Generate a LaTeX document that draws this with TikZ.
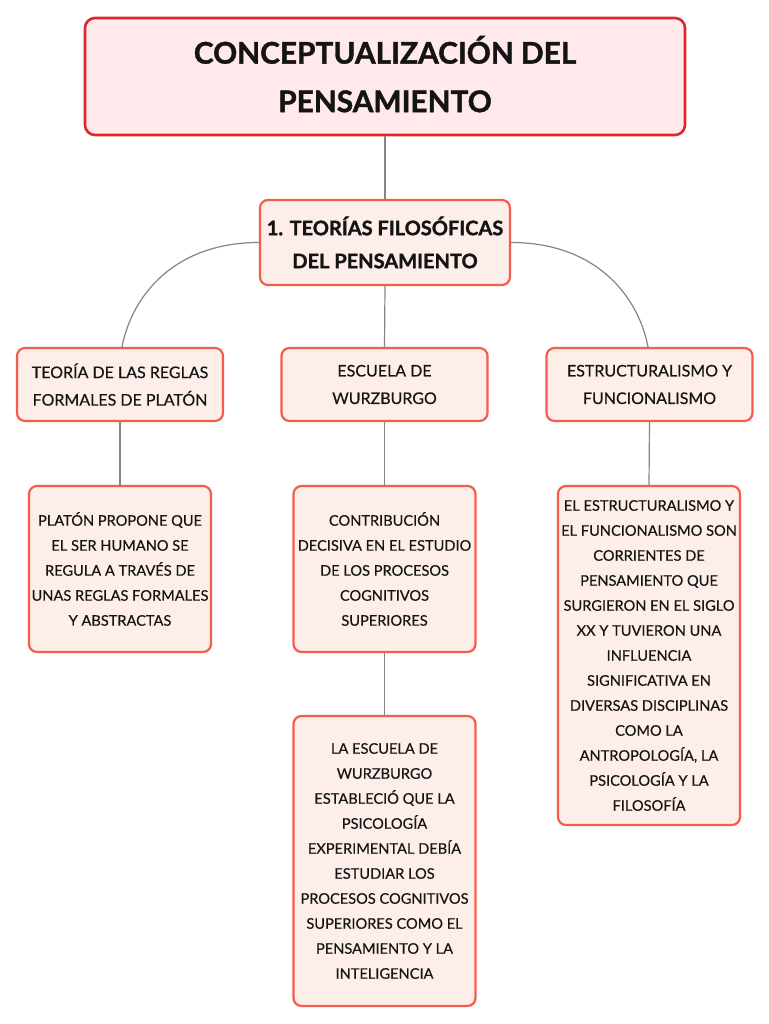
\documentclass[tikz,border=0pt]{standalone}
\usepackage{fontspec}
\setmainfont{Lato}[UprightFeatures={FakeBold=0.4},BoldFeatures={FakeBold=1.4}]
\definecolor{titleborder}{HTML}{E3262C}
\definecolor{titlefill}{HTML}{FFE9EA}
\definecolor{boxborder}{HTML}{F45D4C}
\definecolor{boxfill}{HTML}{FDEEEA}
\definecolor{linkgray}{HTML}{858585}
\definecolor{txt}{HTML}{141414}
\begin{document}
\begin{tikzpicture}[x=1pt,y=-1pt,
  titlebox/.style={draw=titleborder,fill=titlefill,line width=2.6pt,rounded corners=10pt,
    minimum width=600pt,minimum height=117pt,inner sep=0pt,align=center,text=txt,
    text depth=5pt,font={\bfseries\fontsize{29.8}{48.5}\selectfont}},
  mainbox/.style={draw=boxborder,fill=boxfill,line width=2.2pt,rounded corners=8pt,
    minimum width=250pt,minimum height=85pt,inner sep=0pt,align=center,text=txt,
    font={\bfseries\fontsize{20}{33}\selectfont}},
  catbox/.style={draw=boxborder,fill=boxfill,line width=2.2pt,rounded corners=8pt,
    minimum width=206pt,minimum height=73pt,inner sep=0pt,align=center,text=txt,
    font={\fontsize{16}{27.5}\selectfont}},
  descbox/.style={draw=boxborder,fill=boxfill,line width=2.2pt,rounded corners=8pt,
    minimum width=182pt,inner sep=0pt,align=center,text=txt,
    font={\fontsize{14.6}{25}\selectfont}},
  link/.style={draw=linkgray,line width=1.2pt}
]
\useasboundingbox (0,0) rectangle (768,1024);
\fill[white] (0,0) rectangle (768,1024);

\node[titlebox] (title) at (385,76.5) {CONCEPTUALIZACIÓN DEL\\PENSAMIENTO};
\node[mainbox] (teorias) at (385,242.5) {1. TEORÍAS FILOSÓFICAS\\DEL PENSAMIENTO};

\node[catbox] (platon) at (120,384.5) {TEORÍA DE LAS REGLAS\\FORMALES DE PLATÓN};
\node[catbox] (wurz) at (384.5,384.5) {ESCUELA DE\\WURZBURGO};
\node[catbox] (estr) at (649.5,384.5) {ESTRUCTURALISMO Y\\FUNCIONALISMO};

\node[descbox,minimum height=166pt] (platond) at (120,569)
  {PLATÓN PROPONE QUE\\EL SER HUMANO SE\\REGULA A TRAVÉS DE\\UNAS REGLAS FORMALES\\Y ABSTRACTAS};
\node[descbox,minimum height=166pt] (wurzd) at (384.5,569)
  {CONTRIBUCIÓN\\DECISIVA EN EL ESTUDIO\\DE LOS PROCESOS\\COGNITIVOS\\SUPERIORES};
\node[descbox,minimum height=339pt] (estrd) at (649,655.5)
  {EL ESTRUCTURALISMO Y\\EL FUNCIONALISMO SON\\CORRIENTES DE\\PENSAMIENTO QUE\\SURGIERON EN EL SIGLO\\XX Y TUVIERON UNA\\INFLUENCIA\\SIGNIFICATIVA EN\\DIVERSAS DISCIPLINAS\\COMO LA\\ANTROPOLOGÍA, LA\\PSICOLOGÍA Y LA\\FILOSOFÍA};
\node[descbox,minimum height=290pt] (wurzd2) at (384.5,861)
  {LA ESCUELA DE\\WURZBURGO\\ESTABLECIÓ QUE LA\\PSICOLOGÍA\\EXPERIMENTAL DEBÍA\\ESTUDIAR LOS\\PROCESOS COGNITIVOS\\SUPERIORES COMO EL\\PENSAMIENTO Y LA\\INTELIGENCIA};

\draw[link] (title.south) -- (teorias.north);
\draw[link] (teorias.west) .. controls (175,242.5) and (132,295) .. (platon.north -| 122,0);
\draw[link] (teorias.east) .. controls (595,242.5) and (638,295) .. (estr.north -| 648,0);
\draw[link] (teorias.south) -- (wurz.north);
\draw[link] (platon.south) -- (platond.north);
\draw[link] (wurz.south) -- (wurzd.north);
\draw[link] (estr.south) -- (estrd.north);
\draw[link] (wurzd.south) -- (wurzd2.north);
\end{tikzpicture}
\end{document}
